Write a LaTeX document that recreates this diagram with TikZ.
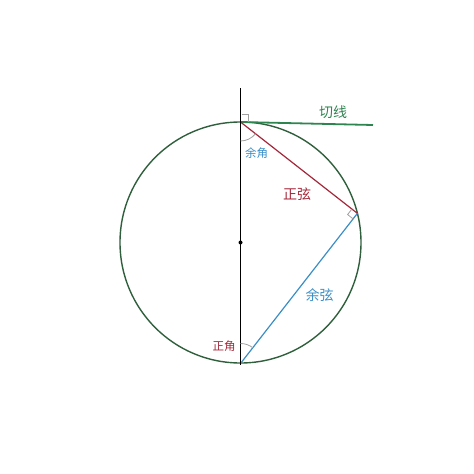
\documentclass[tikz,border=0pt]{standalone}
\usepackage{fontspec}
\setmainfont{Noto Sans CJK SC}
\usetikzlibrary{calc}
\definecolor{circgreen}{HTML}{2F5F3C}
\definecolor{tangreen}{HTML}{2E8550}
\definecolor{chordred}{HTML}{A3283A}
\definecolor{chordblue}{HTML}{3A8EC6}
\definecolor{anglegray}{HTML}{A0A0A0}
\tikzset{
  lbl/.style={inner sep=0pt, font=\fontsize{14}{14}\selectfont},
  smalllbl/.style={inner sep=0pt, font=\fontsize{11.5}{11.5}\selectfont},
  markline/.style={draw=anglegray, line width=0.8pt}
}
\begin{document}
\begin{tikzpicture}[x=1pt,y=-1pt]
\useasboundingbox (0,0) rectangle (474,474);
\coordinate (C) at (240.5,242.5);
\coordinate (T) at (240.5,122);
\coordinate (B) at (240.5,363.5);
\coordinate (Vtop) at (240.5,88);
\coordinate (Vbot) at (240.5,365);
\coordinate (P) at ($(C)+(-14:120.5)$);
\coordinate (Tend) at (373,125);
% circle
\draw[circgreen, line width=1.4pt] (C) circle (120.5);
% tangent
\draw[tangreen, line width=1.8pt] (T) -- (Tend);
% chords
\draw[chordred, line width=1.2pt] (T) -- (P);
\draw[chordblue, line width=1.2pt] (P) -- (B);
% vertical diameter
\draw[black, line width=1.8pt] (Vtop) -- (Vbot);
\fill[black] (C) circle (2);
% right angle marks
\draw[markline] (241.5,114) -- (248.5,114) -- (248.5,121.5);
\coordinate (A1) at ($(P)!7pt!(T)$);
\coordinate (A2) at ($(P)!7pt!(B)$);
\coordinate (A3) at ($(A1)+(A2)-(P)$);
\draw[markline] (A1) -- (A3) -- (A2);
% angle arcs
\draw[markline] ($(T)+(0,19)$) arc[start angle=90, end angle=38, radius=19];
\draw[markline] ($(B)+(0,-20)$) arc[start angle=-90, end angle=-52, radius=20];
% labels
\node[lbl, text=tangreen] (qx) at (333,112) {切线};
\node[smalllbl, text=chordblue] (yj) at (256.5,153.5) {余角};
\node[lbl, text=chordred] (zx) at (297,194) {正弦};
\node[lbl, text=chordblue] (yx) at (319.5,295) {余弦};
\node[smalllbl, text=chordred] (zj) at (224,346) {正角};
\end{tikzpicture}
\end{document}
